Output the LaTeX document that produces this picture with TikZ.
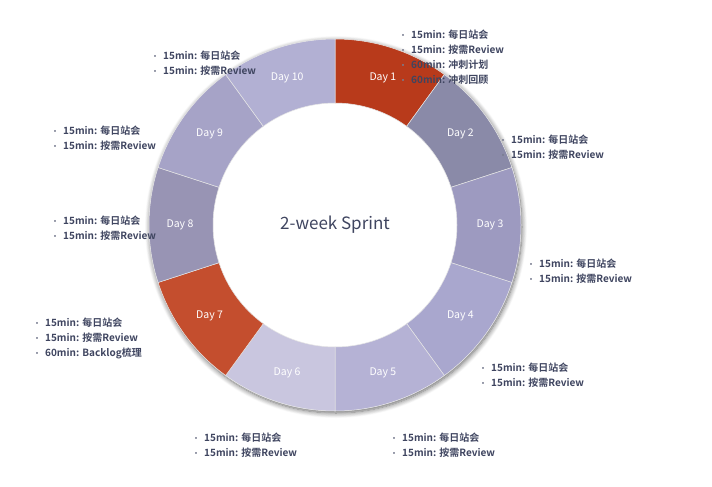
\documentclass[tikz,border=0pt]{standalone}
\usepackage{fontspec}
\setmainfont{Noto Sans CJK SC}
\newfontfamily\lab{Noto Sans CJK SC Bold}
\usetikzlibrary{shadows.blur}
\definecolor{txt}{HTML}{3F4560}
\newcommand{\bl}{{\color{txt!70}\scalebox{0.8}{•}}\hspace{4pt}}
\tikzset{note/.style={anchor=north west,align=left,inner sep=0pt,text=txt,font=\lab\fontsize{10}{14.8}\selectfont},
daylab/.style={text=white,font=\fontsize{10.5}{12}\selectfont}}
\begin{document}
\begin{tikzpicture}[x=1pt,y=-1pt]
\useasboundingbox (0,0) rectangle (712,487);
\coordinate (c) at (335,225);
\fill[white,blur shadow={shadow xshift=1pt,shadow yshift=-2pt,shadow blur steps=8,shadow blur radius=5pt,shadow opacity=60}] (c) circle (186);
\foreach \i/\col in {1/B83A1B,2/8A8AA8,3/9D9AC0,4/A9A7CE,5/B5B2D5,6/C9C6DF,7/C44E2E,8/9894B4,9/A6A3C7,10/B2B0D3}{
  \pgfmathsetmacro\a{90-36*(\i-1)}
  \pgfmathsetmacro\b{\a-36}
  \pgfmathsetmacro\m{\a-18}
  \definecolor{seg}{HTML}{\col}
  \fill[seg,draw=white!80!gray,line width=0.5pt] ($(c)+(-\a:186)$) arc[start angle=-\a,end angle=-\b,radius=186] -- ($(c)+(-\b:122)$) arc[start angle=-\b,end angle=-\a,radius=122] -- cycle;
  \node[daylab] (d\i) at ($(c)+(-\m:155)$) {Day \i};
}
\node[text=txt,font=\fontsize{17}{20}\selectfont] (t) at (c) {2-week Sprint};
\node[note] (n1) at (399,30) {\bl 15min: 每日站会\\\bl 15min: 按需Review\\\bl 60min: 冲刺计划\\\bl 60min: 冲刺回顾};
\node[note] (n2) at (499,135) {\bl 15min: 每日站会\\\bl 15min: 按需Review};
\node[note] (n3) at (527,259) {\bl 15min: 每日站会\\\bl 15min: 按需Review};
\node[note] (n4) at (479,363) {\bl 15min: 每日站会\\\bl 15min: 按需Review};
\node[note] (n5) at (390,433) {\bl 15min: 每日站会\\\bl 15min: 按需Review};
\node[note] (n6) at (192,433) {\bl 15min: 每日站会\\\bl 15min: 按需Review};
\node[note] (n7) at (33,318) {\bl 15min: 每日站会\\\bl 15min: 按需Review\\\bl 60min: Backlog梳理};
\node[note] (n8) at (51,216) {\bl 15min: 每日站会\\\bl 15min: 按需Review};
\node[note] (n9) at (51,126) {\bl 15min: 每日站会\\\bl 15min: 按需Review};
\node[note] (n10) at (151,51) {\bl 15min: 每日站会\\\bl 15min: 按需Review};
\end{tikzpicture}
\end{document}
